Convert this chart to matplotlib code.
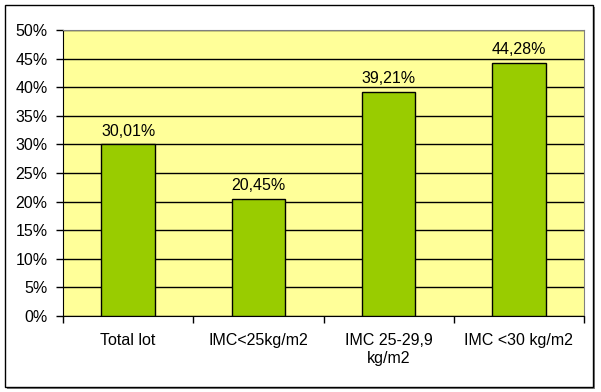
import matplotlib
matplotlib.use("Agg")
import matplotlib.pyplot as plt
from matplotlib.patches import Rectangle
from matplotlib.ticker import FixedLocator, NullFormatter

categories = ["Total lot", "IMC<25kg/m2", "IMC 25-29,9\nkg/m2", "IMC <30 kg/m2"]
values = [30.01, 20.45, 39.21, 44.28]
labels = ["30,01%", "20,45%", "39,21%", "44,28%"]
yticks = [0, 5, 10, 15, 20, 25, 30, 35, 40, 45, 50]

plt.rcParams['font.family'] = ['Liberation Sans', 'DejaVu Sans']
FS = 11.5

fig = plt.figure(figsize=(6.01, 3.92), dpi=100)
fig.patch.set_facecolor('white')
# outer border with shadow
fig.patches.append(Rectangle((7/601, 1 - 389/392), 588/601, 382/392, transform=fig.transFigure,
                             facecolor='#808080', edgecolor='none', zorder=-2))
fig.patches.append(Rectangle((5/601, 1 - 387/392), 588/601, 382/392, transform=fig.transFigure,
                             facecolor='white', edgecolor='black', linewidth=1.0, zorder=-1))

ax = fig.add_axes([63/601, 1 - 316/392, (584-63)/601, (316-30)/392])
ax.set_zorder(5)
ax.set_facecolor('#FFFF99')
x = list(range(len(categories)))
ax.bar(x, values, width=0.41, color='#99CC00', edgecolor='black', linewidth=1.0, zorder=3)
for xi, v, lab in zip(x, values, labels):
    ax.text(xi, v + 1.0, lab, ha='center', va='bottom', fontsize=FS, color='black', zorder=4)

ax.set_xlim(-0.5, len(categories) - 0.5)
ax.set_ylim(0, 50)
ax.set_yticks(yticks)
ax.set_yticklabels([f"{t}%" for t in yticks], fontsize=FS)
ax.yaxis.grid(True, color='black', linewidth=1.0, zorder=1)
ax.set_axisbelow(True)

ax.xaxis.set_major_locator(FixedLocator([i - 0.5 for i in range(len(categories) + 1)]))
ax.xaxis.set_major_formatter(NullFormatter())
ax.xaxis.set_minor_locator(FixedLocator(x))
ax.set_xticklabels(categories, minor=True, fontsize=FS, linespacing=1.3)
ax.tick_params(axis='x', which='minor', length=0, pad=12)
ax.tick_params(axis='x', which='major', length=5, direction='out', width=1)
ax.tick_params(axis='y', length=5, direction='out', width=1, pad=6)

ax.spines['top'].set_color('#808080')
ax.spines['right'].set_color('#808080')
ax.spines['left'].set_color('black')
ax.spines['bottom'].set_color('black')

fig.savefig('out.png', dpi=100)
